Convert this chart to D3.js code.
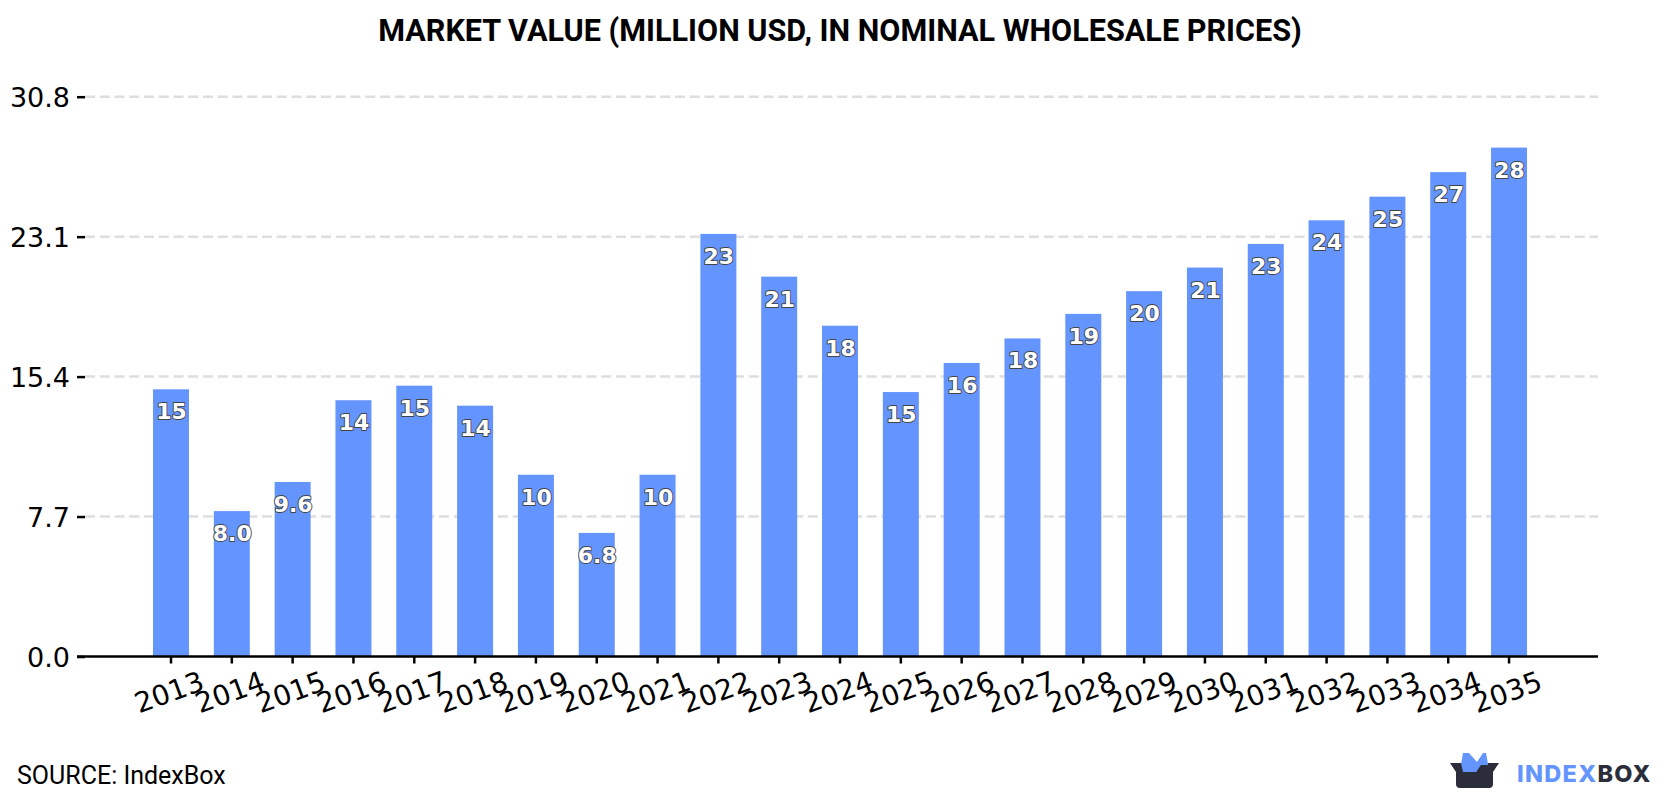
<!DOCTYPE html>
<html>
<head>
<meta charset="utf-8">
<title>Market value</title>
<script src="https://cdnjs.cloudflare.com/ajax/libs/d3/7.8.5/d3.min.js"></script>
<style>
  html, body { margin: 0; padding: 0; background: #fff; }
  svg { display: block; }
  .tick-label { font-family: "DejaVu Sans", sans-serif; font-size: 27px; fill: #000; }
  .year-label { font-size: 28px; }
</style>
</head>
<body>
<svg id="chart" width="1680" height="800"></svg>
<script>
const years = [2013, 2014, 2015, 2016, 2017, 2018, 2019, 2020, 2021, 2022, 2023, 2024,
               2025, 2026, 2027, 2028, 2029, 2030, 2031, 2032, 2033, 2034, 2035];
const marketValue = [14.7, 8.0, 9.6, 14.1, 14.9, 13.8, 10.0, 6.8, 10.0, 23.25, 20.9, 18.2,
                     14.55, 16.15, 17.5, 18.85, 20.1, 21.4, 22.7, 24.0, 25.3, 26.65, 28.0];
const yTicks = [0, 7.7, 15.4, 23.1, 30.8];

const titleText = "MARKET VALUE (MILLION USD, IN NOMINAL WHOLESALE PRICES)";
const sourceText = "SOURCE: IndexBox";

const svg = d3.select("#chart");

const plot = { left: 85, right: 1598, top: 96.7, bottom: 656.5 };
const step = 60.82;

const x = d3.scaleBand()
  .domain(years)
  .range([171 - step / 2, 171 - step / 2 + step * years.length])
  .paddingInner(1 - 36 / step)
  .paddingOuter((1 - 36 / step) / 2);

const y = d3.scaleLinear().domain([0, 30.8]).range([plot.bottom, plot.top]);

// Title
svg.append("text")
  .attr("x", 840).attr("y", 41)
  .attr("text-anchor", "middle")
  .style("font-family", "Roboto, sans-serif")
  .style("font-weight", 700)
  .style("font-size", "30.6px")
  .attr("fill", "#000")
  .text(titleText);

// Horizontal dashed grid
svg.append("g").selectAll("line")
  .data(yTicks.slice(1))
  .join("line")
  .attr("x1", plot.left).attr("x2", plot.right)
  .attr("y1", d => y(d)).attr("y2", d => y(d))
  .attr("stroke", "#dedede")
  .attr("stroke-width", 2.5)
  .attr("stroke-dasharray", "10 4.75");

// Bars
svg.append("g").selectAll("rect")
  .data(years.map((yr, i) => ({ yr, v: marketValue[i] })))
  .join("rect")
  .attr("x", d => x(d.yr))
  .attr("y", d => y(d.v))
  .attr("width", x.bandwidth())
  .attr("height", d => y(0) - y(d.v))
  .attr("fill", "#6495ff");

// Y axis
const yAxis = d3.axisLeft(y)
  .tickValues(yTicks)
  .tickFormat(d3.format(".1f"))
  .tickSize(8)
  .tickPadding(7);
const yG = svg.append("g").attr("transform", `translate(${plot.left},0)`).call(yAxis);
yG.select(".domain").remove();
yG.selectAll("line").attr("stroke", "#000").attr("stroke-width", 2.5);
yG.selectAll("text").attr("class", "tick-label").attr("fill", "#000").attr("dy", "0.36em");

// X axis
const xAxis = d3.axisBottom(x).tickSize(7).tickPadding(0).tickSizeOuter(0);
const xG = svg.append("g").attr("transform", `translate(0,${plot.bottom})`).call(xAxis);
xG.select(".domain").remove();
xG.selectAll("line").attr("stroke", "#000").attr("stroke-width", 2.5);
xG.selectAll("text")
  .attr("class", "tick-label year-label")
  .attr("fill", "#000")
  .attr("text-anchor", "middle")
  .attr("y", 0).attr("dy", 0)
  .attr("transform", "translate(-2,35.5) rotate(-20) translate(0,10)");

// Baseline
svg.append("line")
  .attr("x1", 77).attr("x2", plot.right)
  .attr("y1", plot.bottom).attr("y2", plot.bottom)
  .attr("stroke", "#000").attr("stroke-width", 2.5);

// Value labels inside the top of each bar
const valueLabel = v => v >= 9.95 ? d3.format(".0f")(v) : d3.format(".1f")(v);
svg.append("g").selectAll("text")
  .data(years.map((yr, i) => ({ yr, v: marketValue[i] })))
  .join("text")
  .attr("x", d => x(d.yr) + x.bandwidth() / 2 + 0.5)
  .attr("y", d => y(d.v) + 30)
  .attr("text-anchor", "middle")
  .style("font-family", "'DejaVu Sans', sans-serif")
  .style("font-weight", 700)
  .style("font-size", "22px")
  .style("paint-order", "stroke")
  .attr("fill", "#fff")
  .attr("stroke", "#444")
  .attr("stroke-width", 1.8)
  .attr("stroke-linejoin", "round")
  .text(d => valueLabel(d.v));

// Source note
svg.append("text")
  .attr("x", 17).attr("y", 784)
  .style("font-family", "Roboto, sans-serif")
  .style("font-size", "25px")
  .attr("fill", "#000")
  .text(sourceText);

// IndexBox logo: an open box with a blue shape rising out of it
const logo = svg.append("g");
logo.append("path")
  .attr("d", "M1461 764 L1463 753 L1469 753 L1477 762 L1483 753 L1486 753 L1488 764 L1488 772 L1476 772 L1472 766 Z")
  .attr("fill", "#6495ff");
logo.append("path")
  .attr("d", "M1450 763 L1462 763 L1462 766 L1476 772 L1481 763 L1499 763 L1493 772 L1493 784 Q1493 788 1489 788 L1460 788 Q1456 788 1456 784 L1456 772 Z")
  .attr("fill", "#2b2d3a");
logo.append("path")
  .attr("d", "M1461 763 L1488 763 L1488 765 L1481 765 L1476 772 L1463 772 Z")
  .attr("fill", "#6495ff");

const logoText = svg.append("text")
  .attr("x", 1517).attr("y", 782)
  .style("font-family", "Inter, Roboto, sans-serif")
  .style("font-weight", 800)
  .style("font-size", "23.5px")
  .style("letter-spacing", "1.3px");
logoText.append("tspan").attr("fill", "#6495ff").text("INDEX");
logoText.append("tspan").attr("fill", "#2b2d3a").text("BOX");
</script>
</body>
</html>
